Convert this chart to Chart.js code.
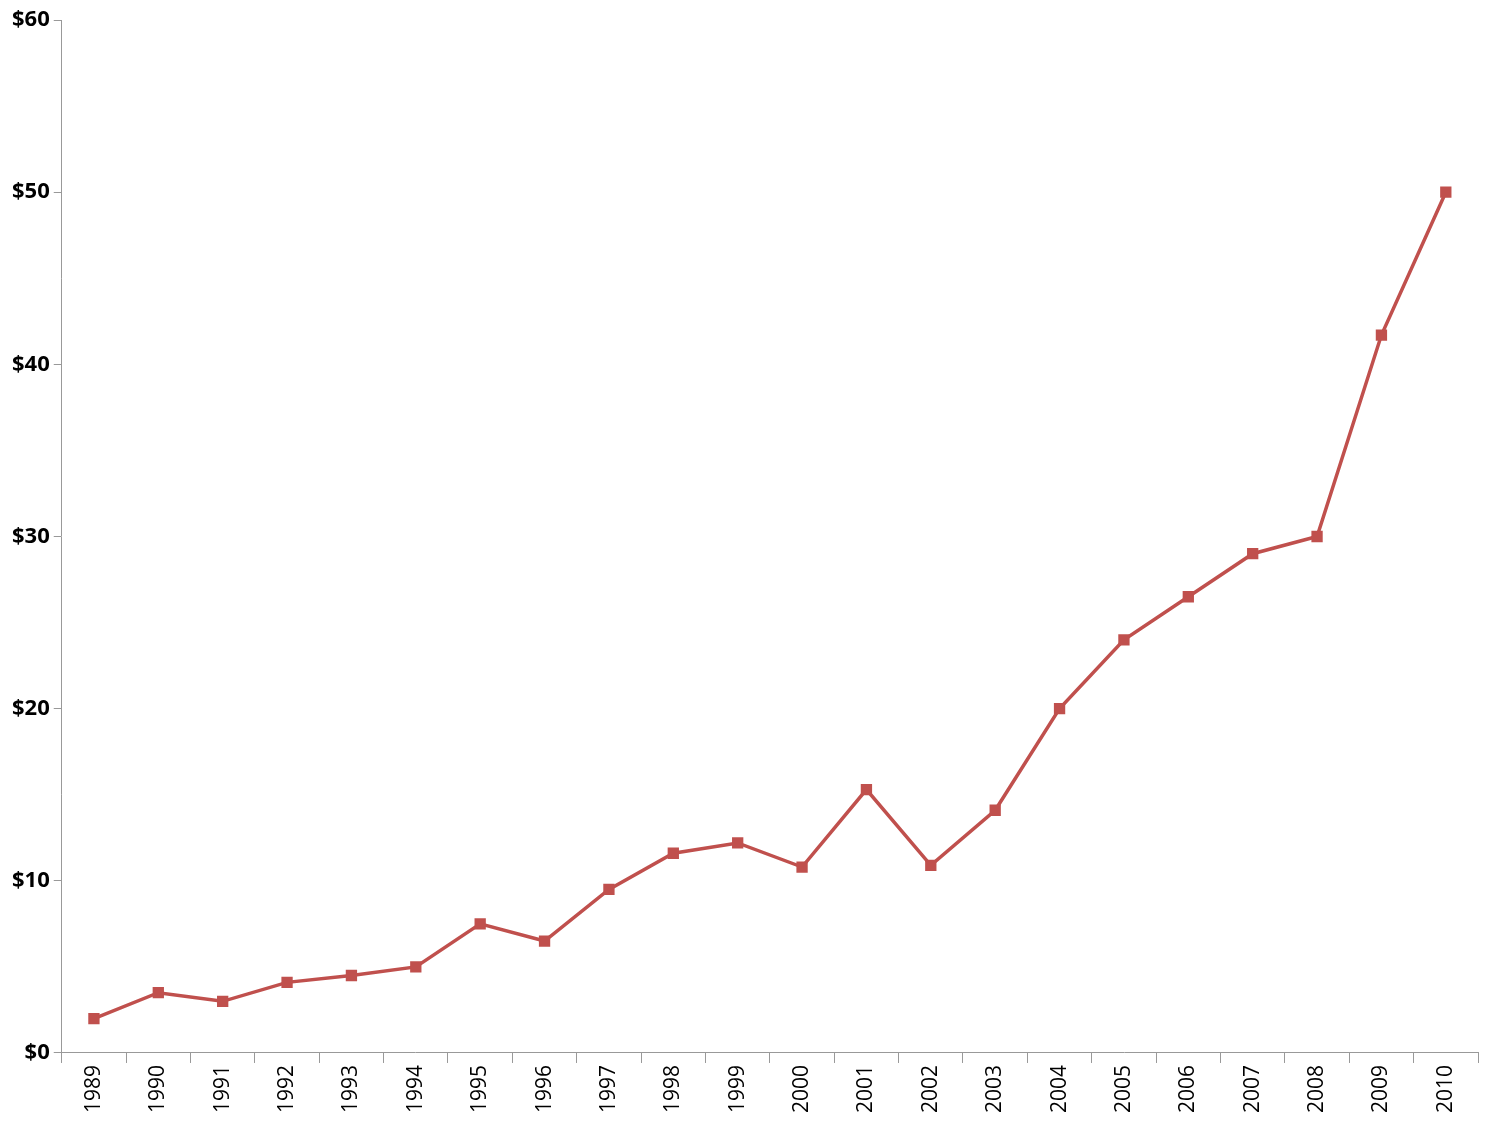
<!DOCTYPE html>
<html>
<head>
<meta charset="utf-8">
<script src="https://cdn.jsdelivr.net/npm/chart.js@4"></script>
<style>
  html, body { margin: 0; padding: 0; background: #fff; }
  #wrap { width: 1500px; height: 1125px; }
</style>
</head>
<body>
<div id="wrap"><canvas id="chart"></canvas></div>
<script>
var years = ['1989', '1990', '1991', '1992', '1993', '1994', '1995', '1996', '1997', '1998', '1999',
             '2000', '2001', '2002', '2003', '2004', '2005', '2006', '2007', '2008', '2009', '2010'];
var values = [2, 3.5, 3, 4.1, 4.5, 5, 7.5, 6.5, 9.5, 11.6, 12.2,
              10.8, 15.3, 10.9, 14.1, 20, 24, 26.5, 29, 30, 41.7, 50];
var yTicks = [0, 10, 20, 30, 40, 50, 60];

document.addEventListener("DOMContentLoaded", function () {
    var ctx = document.getElementById('chart').getContext('2d');
    new Chart(ctx, {
        type: 'line',
        data: {
            labels: years,
            datasets: [{
                data: values,
                borderColor: '#c0504d',
                backgroundColor: '#c0504d',
                borderWidth: 3.5,
                pointStyle: 'rect',
                pointRadius: 8,
                pointBorderWidth: 0,
                tension: 0
            }]
        },
        options: {
            responsive: true,
            maintainAspectRatio: false,
            animation: false,
            layout: { padding: { left: 8, right: 22, top: 20, bottom: 10 } },
            plugins: { legend: { display: false }, tooltip: { enabled: false } },
            scales: {
                x: {
                    offset: true,
                    grid: { offset: true, drawOnChartArea: false, tickLength: 10, color: '#999' },
                    border: { color: '#999' },
                    ticks: {
                        minRotation: 90, maxRotation: 90, color: '#000', padding: 2,
                        font: { family: 'Open Sans', size: 21 }
                    }
                },
                y: {
                    min: 0, max: 60,
                    afterBuildTicks: function (axis) {
                        axis.ticks = yTicks.map(function (v) { return { value: v }; });
                    },
                    grid: { drawOnChartArea: false, tickLength: 8, color: '#999' },
                    border: { color: '#999' },
                    ticks: {
                        color: '#000', padding: 4,
                        font: { family: 'Open Sans', size: 22, weight: 'bold' },
                        callback: function (v) { return '$' + v; }
                    }
                }
            }
        }
    });
});
</script>
</body>
</html>
